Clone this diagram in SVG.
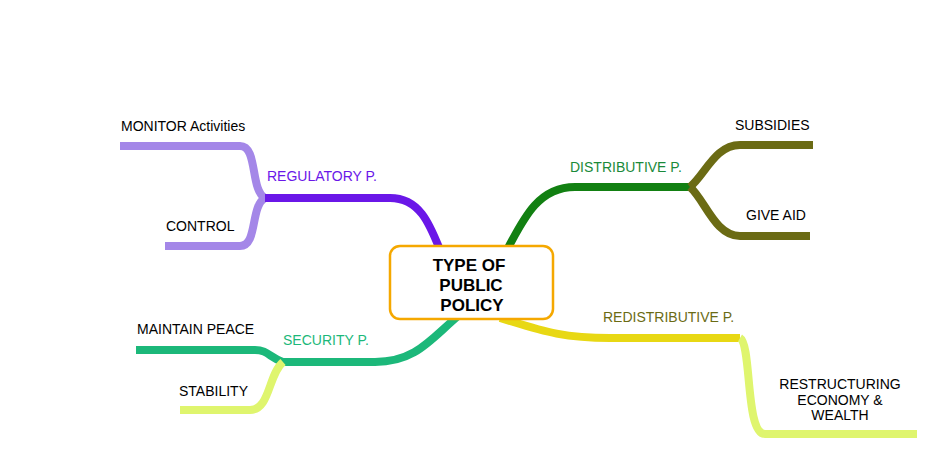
<svg xmlns="http://www.w3.org/2000/svg" width="943" height="464" viewBox="0 0 943 464">
<style>
.c{fill:none;stroke-width:8;stroke-linecap:butt}
.t{font-family:"Liberation Sans",Arial,sans-serif;font-size:14px;fill:#000}
.b{font-family:"Liberation Sans",Arial,sans-serif;font-size:17px;font-weight:bold;fill:#000;text-anchor:middle}
</style>
<rect width="943" height="464" fill="#fff"/>
<g id="connectors">
<path class="c" stroke="#a487e8" d="M265,198 C250,190 258,146 240,146 L120,146"/>
<path class="c" stroke="#a487e8" d="M265,198 C250,206 258,246 240,246 L165,246"/>
<path class="c" stroke="#6a17e8" d="M440,250 C430,225 420,198 390,198 L265,198"/>
<path class="c" stroke="#128012" d="M507,250 C525,215 540,187 575,187 L690,187"/>
<path class="c" stroke="#6b6b14" d="M690,187 C705,175 715,145 740,145 L813,145"/>
<path class="c" stroke="#6b6b14" d="M690,187 C705,200 715,236 740,236 L810,236"/>
<path class="c" stroke="#e8d814" d="M500,318 C540,330 560,338 610,338 L740,338"/>
<path class="c" stroke="#dff56e" d="M740,338 C752,345 745,434 765,434 L917,434"/>
<path class="c" stroke="#1cb87a" d="M458,316 C430,340 415,362 375,362 L283,362"/>
<path class="c" stroke="#1cb87a" d="M283,362 C270,358 268,350 255,350 L136,350"/>
<path class="c" stroke="#dff56e" d="M283,362 C268,375 270,410 250,410 L180,410"/>
</g>
<g id="center"><rect x="390" y="246" width="163" height="73" rx="10" fill="#fff" stroke="#f5a800" stroke-width="2.5"/>
<text class="b" x="469" y="271">TYPE  OF</text><text class="b" x="471" y="291">PUBLIC</text><text class="b" x="472" y="311">POLICY</text></g>
<g id="regulatory"><text class="t" x="267" y="181" fill="#6a17e8" style="fill:#6a17e8">REGULATORY P.</text></g>
<g id="monitor"><text class="t" x="121" y="131">MONITOR Activities</text></g>
<g id="control"><text class="t" x="166" y="231">CONTROL</text></g>
<g id="distributive"><text class="t" x="570" y="172" style="fill:#1a8a3a">DISTRIBUTIVE P.</text></g>
<g id="subsidies"><text class="t" x="735" y="130">SUBSIDIES</text></g>
<g id="giveaid"><text class="t" x="746" y="220">GIVE AID</text></g>
<g id="redistributive"><text class="t" x="603" y="322" style="fill:#6b6b14">REDISTRIBUTIVE P.</text></g>
<g id="restructuring"><text class="t" x="840" y="389" text-anchor="middle">RESTRUCTURING</text><text class="t" x="840" y="405" text-anchor="middle">ECONOMY  &amp;</text><text class="t" x="840" y="420" text-anchor="middle">WEALTH</text></g>
<g id="security"><text class="t" x="283" y="345" style="fill:#1cb87a">SECURITY P.</text></g>
<g id="peace"><text class="t" x="137" y="334">MAINTAIN PEACE</text></g>
<g id="stability"><text class="t" x="179" y="396">STABILITY</text></g>
</svg>
